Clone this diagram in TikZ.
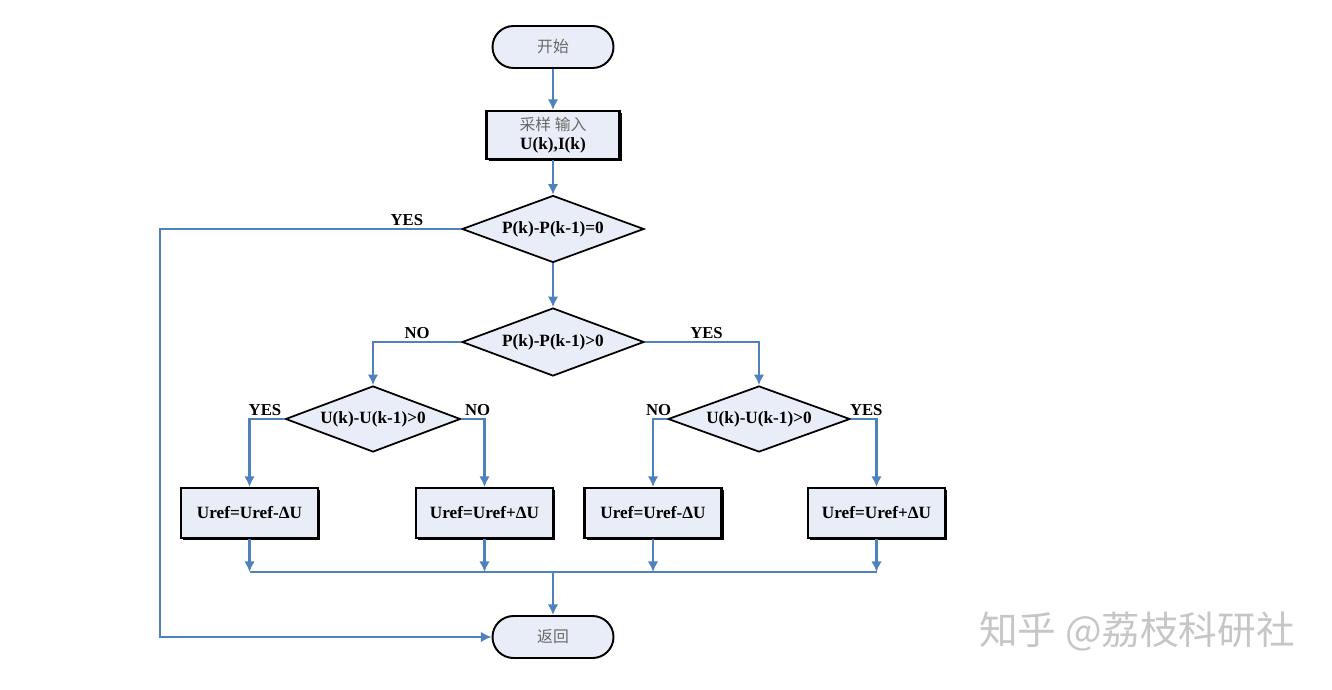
\documentclass[tikz,border=0pt]{standalone}
\usepackage{fontspec}
\setmainfont{Liberation Serif}
\newfontfamily\cjk{Noto Sans CJK SC}
\usepackage{tikz}
\usetikzlibrary{arrows.meta,shapes.geometric,shadows,calc}
\definecolor{flowblue}{RGB}{79,129,189}
\definecolor{boxfill}{RGB}{233,237,247}
\definecolor{cjkgray}{RGB}{105,105,105}
\tikzset{>={Latex[length=6pt,width=6pt]},
	flow/.style={draw=flowblue,line width=1.3pt},
	term/.style={rectangle,rounded corners=0.42cm,draw=black,line width=1.1pt,fill=boxfill,minimum width=2.42cm,minimum height=0.84cm,text=cjkgray,font=\cjk\small},
	proc/.style={rectangle,draw=black,line width=1.2pt,fill=boxfill,drop shadow={shadow xshift=1.3pt,shadow yshift=-1.3pt,fill=black,opacity=1},minimum width=2.74cm,minimum height=1cm,font=\bfseries\fontsize{9.8}{11}\selectfont},
	decide/.style={diamond,draw=black,line width=1pt,fill=boxfill,inner sep=0pt,aspect=2.7,minimum width=3.64cm,minimum height=1.34cm,font=\bfseries\fontsize{9.8}{11}\selectfont},
	lbl/.style={inner sep=1.5pt,font=\bfseries\fontsize{9.5}{11}\selectfont}}

\begin{document}
\begin{tikzpicture}
		\useasboundingbox (0,0) rectangle (26.64,-13.8);
		\node (start) at (11.06,-0.94) [term] {开始};
		\node (sample) at (11.06,-2.70) [proc,minimum width=2.66cm,minimum height=0.94cm,align=center] {{\cjk\mdseries\small\color{cjkgray}采样 输入}\\U(k),I(k)};
		\node (d1) at (11.06,-4.58) [decide] {P(k)-P(k-1)=0};
		\node (d2) at (11.06,-6.84) [decide,minimum height=1.36cm] {P(k)-P(k-1)>0};
		\node (dL) at (7.46,-8.38) [decide,minimum width=3.5cm,minimum height=1.32cm] {U(k)-U(k-1)>0};
		\node (dR) at (15.18,-8.38) [decide,minimum height=1.32cm] {U(k)-U(k-1)>0};
		\node (b1) at (4.99,-10.26) [proc] {Uref=Uref-ΔU};
		\node (b2) at (9.69,-10.26) [proc] {Uref=Uref+ΔU};
		\node (b3) at (13.06,-10.26) [proc] {Uref=Uref-ΔU};
		\node (b4) at (17.53,-10.26) [proc] {Uref=Uref+ΔU};
		\node (ret) at (11.06,-12.74) [term] {返回};
		\coordinate (m) at (11.06,-11.44);
		\coordinate (yl) at (3.2,-12.74);
		\node (mark) at (22.74,-12.64) [font=\cjk\fontsize{22}{24}\selectfont,text=gray!45] {知乎 @荔枝科研社};
		% main line
		\draw [flow,->] (start) -- (sample);
		\draw [flow,->] (sample) -- (d1);
		\draw [flow,->] (d1) -- (d2);
		\draw [flow,->] (d1.west) -| node[lbl,above,pos=0.09] (y1) {YES} (yl) -- (ret.west);
		% second level
		\draw [flow,->] (d2.west) -| node[lbl,above,pos=0.25] (n2) {NO} (dL.north);
		\draw [flow,->] (d2.east) -| node[lbl,above,pos=0.27] (y2) {YES} (dR.north);
		\draw [flow,->] (dL.west) -| node[lbl,above,pos=0.28] (y3) {YES} (b1.north);
		\draw [flow,->] (dL.east) -| node[lbl,above,pos=0.35] (n3) {NO} (b2.north);
		\draw [flow,->] (dR.west) -| node[lbl,above,pos=0.3] (n4) {NO} (b3.north);
		\draw [flow,->] (dR.east) -| node[lbl,above,pos=0.3] (y4) {YES} (b4.north);
		% merge
		\draw [flow,->] (b1.south) -- (b1.south |- m);
		\draw [flow,->] (b2.south) -- (b2.south |- m);
		\draw [flow,->] (b3.south) -- (b3.south |- m);
		\draw [flow,->] (b4.south) -- (b4.south |- m);
		\draw [flow] (b1.south |- m) -- (b4.south |- m);
		\draw [flow,->] (m) -- (ret.north);
\end{tikzpicture}
\end{document}
